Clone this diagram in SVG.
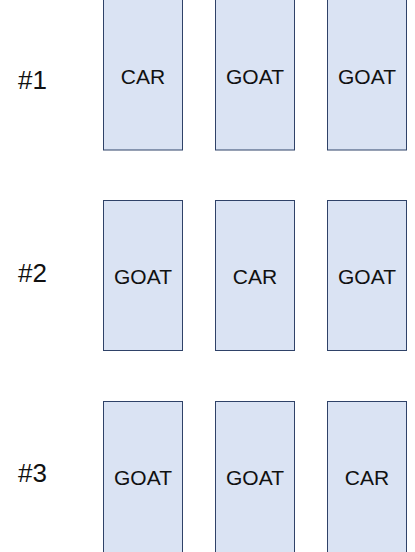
<svg xmlns="http://www.w3.org/2000/svg" width="415" height="552" viewBox="0 0 415 552">
<style>
.door{fill:#dae3f3;stroke:#2f4268;stroke-width:1}
.lbl{font-family:"Liberation Sans",Arial,sans-serif;font-size:21px;fill:#111;text-anchor:middle}
.num{font-family:"Liberation Sans",Arial,sans-serif;font-size:26px;fill:#111}
</style>
<rect width="415" height="552" fill="#fff"/>
<g id="row1">
<text class="num" x="18" y="89">#1</text>
<g id="r1d1"><rect class="door" x="103.5" y="-1" width="79" height="151"/><text class="lbl" x="143" y="84">CAR</text></g>
<g id="r1d2"><rect class="door" x="215.5" y="-1" width="79" height="151"/><text class="lbl" x="255" y="84">GOAT</text></g>
<g id="r1d3"><rect class="door" x="327.5" y="-1" width="79" height="151"/><text class="lbl" x="367" y="84">GOAT</text></g>
</g>
<g id="row2">
<text class="num" x="18" y="282">#2</text>
<g id="r2d1"><rect class="door" x="103.5" y="200.5" width="79" height="150"/><text class="lbl" x="143" y="284">GOAT</text></g>
<g id="r2d2"><rect class="door" x="215.5" y="200.5" width="79" height="150"/><text class="lbl" x="255" y="284">CAR</text></g>
<g id="r2d3"><rect class="door" x="327.5" y="200.5" width="79" height="150"/><text class="lbl" x="367" y="284">GOAT</text></g>
</g>
<g id="row3">
<text class="num" x="18" y="482">#3</text>
<g id="r3d1"><rect class="door" x="103.5" y="401.5" width="79" height="152"/><text class="lbl" x="143" y="485">GOAT</text></g>
<g id="r3d2"><rect class="door" x="215.5" y="401.5" width="79" height="152"/><text class="lbl" x="255" y="485">GOAT</text></g>
<g id="r3d3"><rect class="door" x="327.5" y="401.5" width="79" height="152"/><text class="lbl" x="367" y="485">CAR</text></g>
</g>
<g id="connectors"/>
</svg>
